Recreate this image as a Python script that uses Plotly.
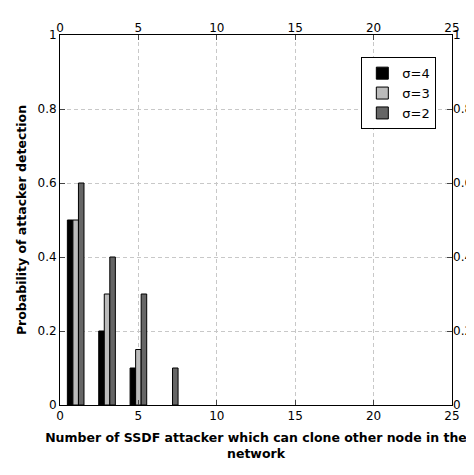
import plotly.graph_objects as go

x = [1, 3, 5, 7]
sigma4 = [0.5, 0.2, 0.1, None]
sigma3 = [0.5, 0.3, 0.15, None]
sigma2 = [0.6, 0.4, 0.3, 0.1]
x_ticks = [0, 5, 10, 15, 20, 25]
y_ticks = [0, 0.2, 0.4, 0.6, 0.8, 1]

fig = go.Figure()
for name, vals, col in [("σ=4", sigma4, "black"), ("σ=3", sigma3, "#bbbbbb"), ("σ=2", sigma2, "#666666")]:
    fig.add_trace(go.Bar(x=x, y=vals, name=name, marker=dict(color=col, line=dict(color="black", width=1))))

# dummy trace to show mirrored tick labels on top and right
fig.add_trace(go.Scatter(x=[0], y=[0], xaxis="x2", yaxis="y2", showlegend=False, hoverinfo="skip",
                         mode="markers", marker=dict(opacity=0)))

font = dict(family="DejaVu Sans", size=12, color="black")
tfont = dict(family="DejaVu Sans", size=12.5, color="black")
ax = dict(showline=True, linecolor="black", linewidth=1, ticks="inside", ticklen=5, mirror=True,
          showgrid=True, gridcolor="#c8c8c8", griddash="4px,3px", zeroline=False, tickfont=font,
          automargin=False)
fig.update_layout(
    width=474, height=475, plot_bgcolor="white", paper_bgcolor="white",
    margin=dict(l=52, r=30, t=27, b=78),
    barmode="group", bargap=0.47, bargroupgap=0,
    xaxis=dict(range=[0, 25], tickvals=x_ticks, **ax,
               title=dict(text="<b>Number of SSDF attacker which can clone other node in the<br>network</b>",
                          font=tfont, standoff=10)),
    yaxis=dict(range=[0, 1], tickvals=y_ticks, **ax,
               title=dict(text="<b>Probability of attacker detection</b>", font=tfont, standoff=8)),
    xaxis2=dict(range=[0, 25], tickvals=x_ticks, overlaying="x", side="top", showgrid=False,
                ticks="inside", ticklen=5, tickfont=font, showline=False, automargin=False),
    yaxis2=dict(range=[0, 1], tickvals=y_ticks, overlaying="y", side="right", showgrid=False,
                ticks="inside", ticklen=5, tickfont=font, showline=False, automargin=False),
    legend=dict(x=0.96, y=0.94, xanchor="right", yanchor="top", bordercolor="black", borderwidth=1,
                font=dict(family="DejaVu Sans", size=13, color="black"), bgcolor="white"),
)
fig.write_html("out.html")
